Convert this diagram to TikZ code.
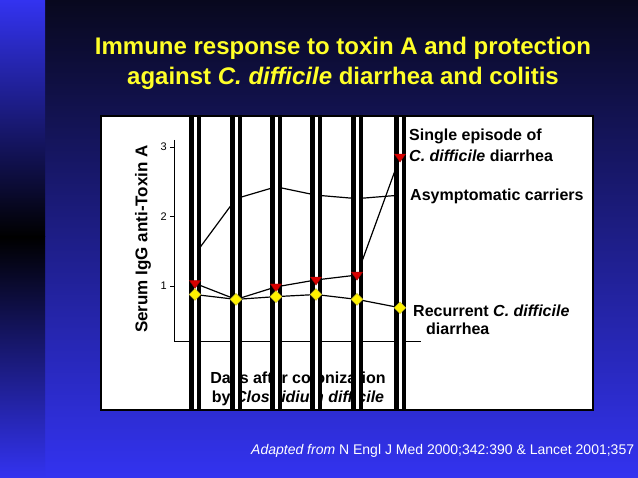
\documentclass[tikz,border=0pt]{standalone}
\usepackage{fontspec}
\setmainfont{Liberation Sans}
\usetikzlibrary{shapes.geometric}
\definecolor{slideblue}{RGB}{51,51,240}
\definecolor{slidedark}{RGB}{8,8,30}
\definecolor{ttl}{RGB}{255,255,40}
\tikzset{
  ser/.style={black, line width=1.2pt},
  circ/.style={circle, draw=black, fill=gray!60!black, minimum size=7pt, inner sep=0pt},
  tri/.style={isosceles triangle, shape border rotate=-90, isosceles triangle apex angle=70, fill=red!85!black, draw=red!60!black, minimum width=10pt, minimum height=8pt, inner sep=0pt},
  dia/.style={diamond, fill=yellow, draw=yellow!70!black, minimum size=12pt, inner sep=0pt},
  lab/.style={font=\fontsize{16}{18}\selectfont\bfseries, anchor=west, inner sep=0pt},
  tick/.style={font=\fontsize{11}{12}\selectfont, inner sep=0pt}
}
\begin{document}
\begin{tikzpicture}[x=1pt,y=-1pt]
\useasboundingbox (0,0) rectangle (638,478);
\shade[top color=slidedark, bottom color=slideblue] (45,0) rectangle (638,478);
\shade[top color=slideblue, bottom color=black] (0,0) rectangle (45,237);
\shade[top color=black, bottom color=slideblue] (0,237) rectangle (45,478);
% title
\node[text=ttl, font=\fontsize{24}{30}\selectfont\bfseries, align=center] (title) at (343,63)
  {Immune response to toxin A and protection\\against \textit{C. difficile} diarrhea and colitis};
% box
\node[draw=black, line width=1.2pt, fill=white, minimum width=492pt, minimum height=294pt, inner sep=0pt] (box) at (347,263) {};
% axes
\coordinate (o) at (174,341);
\coordinate (ytop) at (174,140);
\coordinate (xend) at (421,341);
\draw[black, line width=0.6pt] (ytop) -- (o) -- (xend);
\foreach \v/\y in {1/286,2/216.5,3/147}{
  \draw[black, line width=0.6pt] (170,\y) -- (174,\y);
  \node[tick, anchor=east] (t\v) at (167,\y) {\v};
}
\node[rotate=90, font=\fontsize{17}{19}\selectfont\bfseries] (ylab) at (143,239) {Serum IgG anti-Toxin A};
\foreach \x/\d in {195/0,236/1,276/3,316/6,357/9,400/12}{
  \node[tick, text=gray] (d\d) at (\x,357) {\d};
}
\node[font=\fontsize{16}{19}\selectfont\bfseries, align=center] (xlab) at (298,389)
  {Days after colonization\\by \textit{Clostridium difficile}};
\foreach \i/\x/\v in {1/195/1.45,2/236/2.25,3/276/2.42,4/316/2.3,5/357/2.25,6/400/2.3}{
  \coordinate (a\i) at (\x,{355-69.5*\v});
}
\foreach \i/\x/\v in {1/195/1.03,2/236/0.8,3/276/0.98,4/316/1.08,5/357/1.15,6/400/2.85}{
  \coordinate (s\i) at (\x,{355-69.5*\v});
}
\foreach \i/\x/\v in {1/195/0.87,2/236/0.8,3/276/0.84,4/316/0.87,5/357/0.8,6/400/0.68}{
  \coordinate (r\i) at (\x,{355-69.5*\v});
}
\draw[ser] (a1)--(a2)--(a3)--(a4)--(a5)--(a6);
\draw[ser] (s1)--(s2)--(s3)--(s4)--(s5)--(s6);
\draw[ser] (r1)--(r2)--(r3)--(r4)--(r5)--(r6);
\foreach \i in {1,...,6}{ \node[circ] (ca\i) at (a\i) {}; }
% bars
\foreach \x in {195,236,276,316,357,400}{
  \fill[black] (\x-6,117) rectangle (\x+6,409);
  \fill[white] (\x-1.5,117) rectangle (\x+1.5,409);
}
\foreach \i in {1,3,4,5,6}{ \node[tri] (ts\i) at (s\i) {}; }
\foreach \i in {1,...,6}{ \node[dia] (dr\i) at (r\i) {}; }
% labels
\node[lab] (l1) at (409,136) {Single episode of};
\node[lab] (l2) at (409,156) {\textit{C. difficile} diarrhea};
\node[lab] (l3) at (410,196) {Asymptomatic carriers};
\node[lab] (l4) at (413,311) {Recurrent \textit{C. difficile}};
\node[lab] (l5) at (426,329) {diarrhea};
% footnote
\node[anchor=west, text=white, font=\fontsize{14}{16}\selectfont, inner sep=0pt] (foot) at (251,451)
  {\textit{Adapted from} N Engl J Med 2000;342:390 \& Lancet 2001;357};
\end{tikzpicture}
\end{document}
